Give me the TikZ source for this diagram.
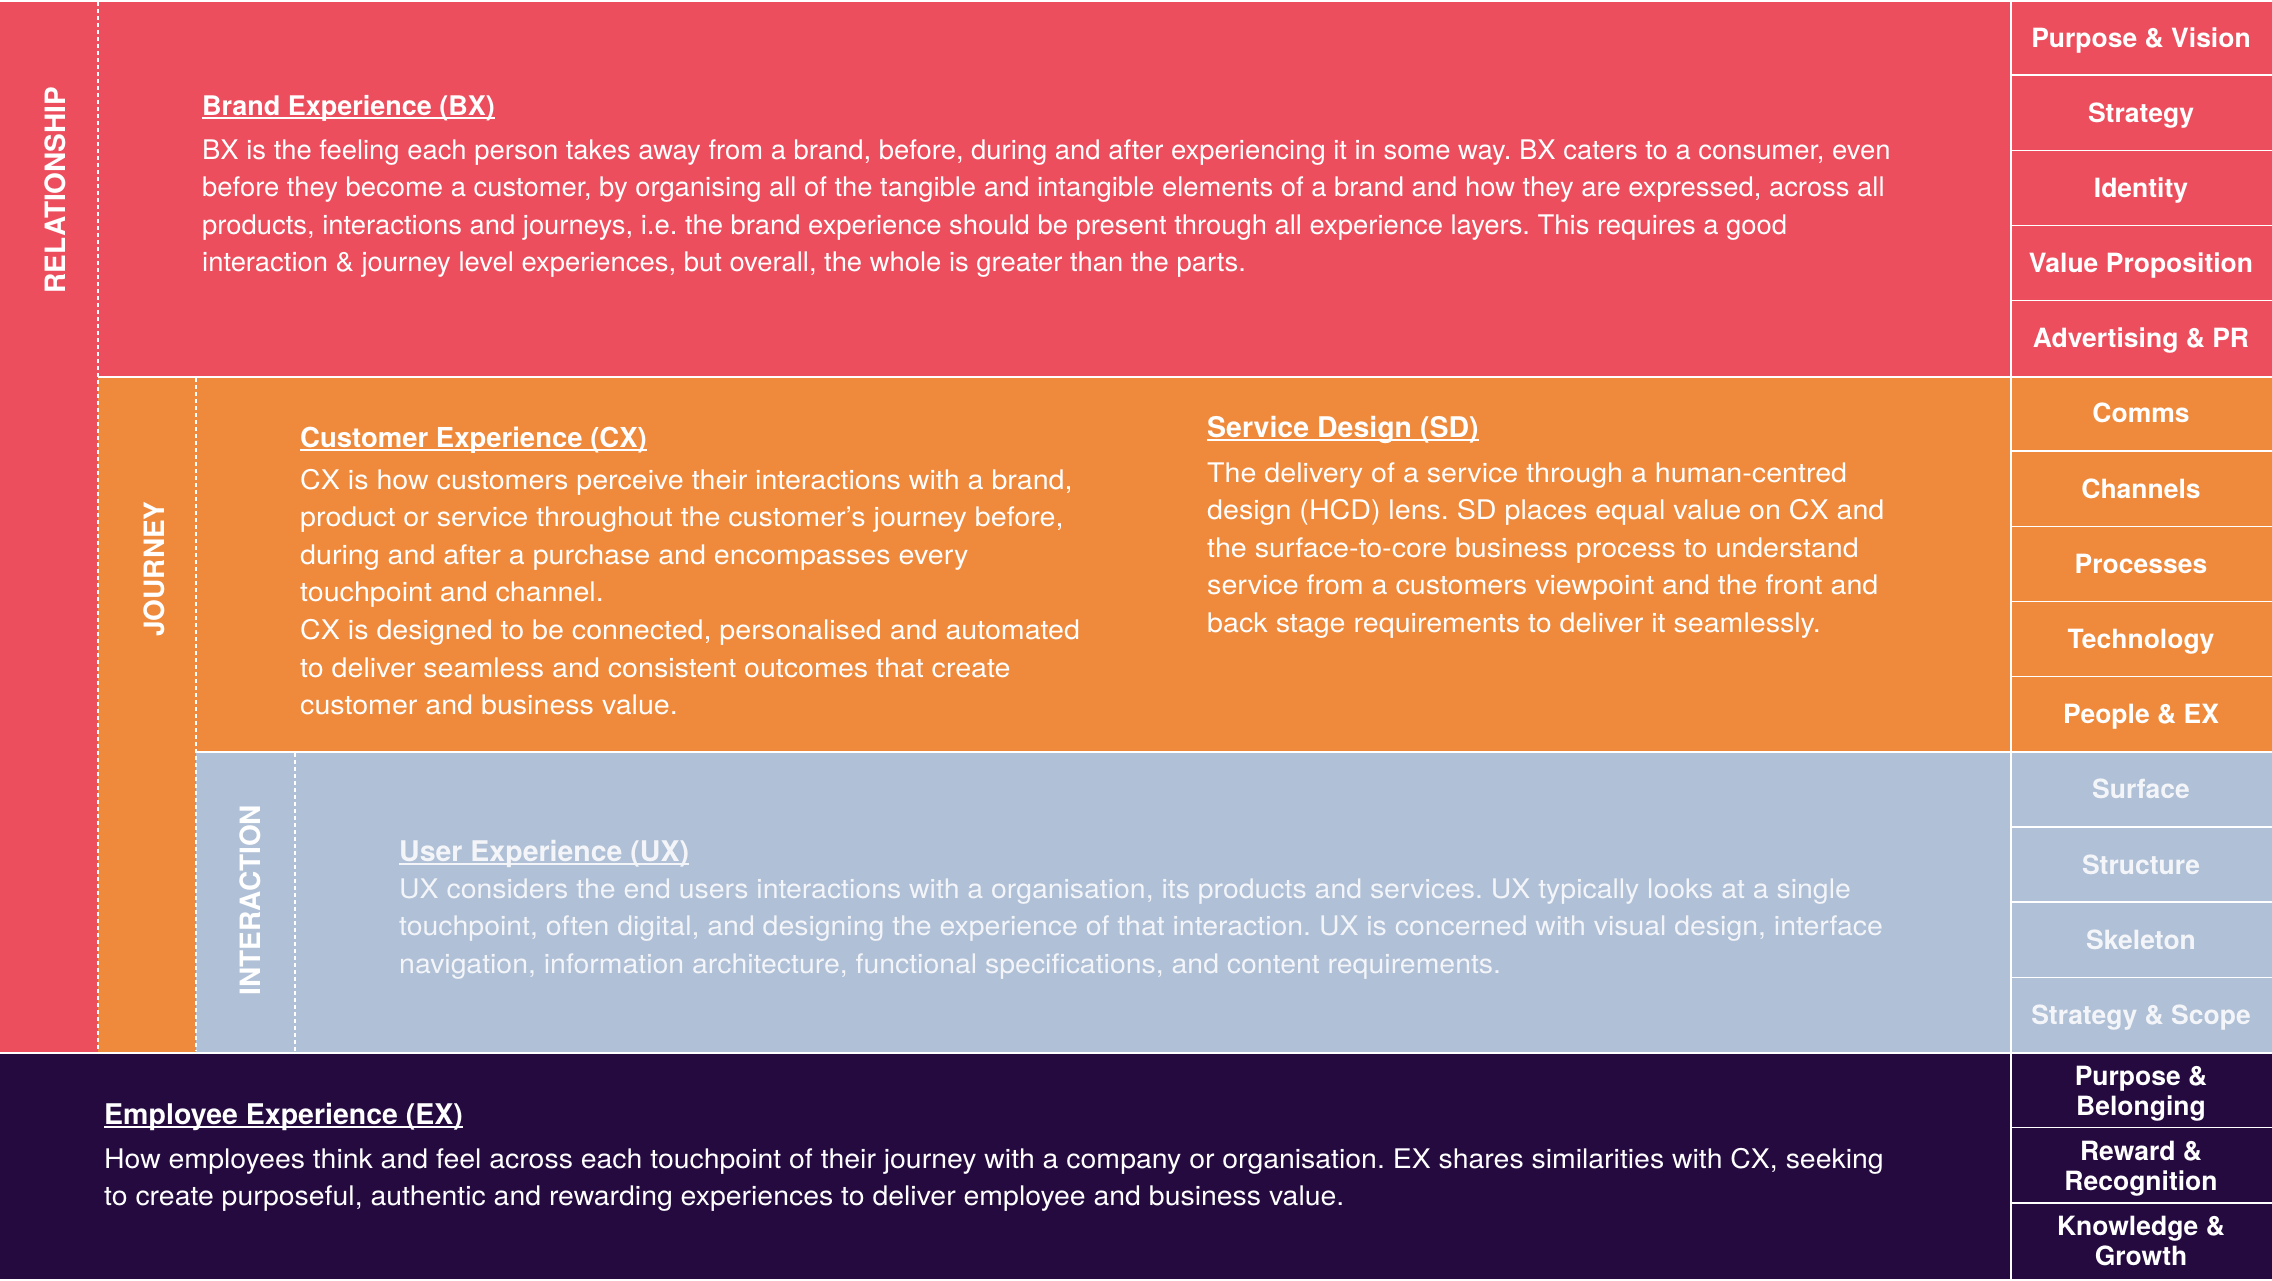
\documentclass[tikz,border=0pt]{standalone}
\usepackage{fontspec}
\setmainfont{TeX Gyre Heros}
\newfontfamily\bodyA{TeX Gyre Heros}[FakeStretch=1.015]
\newfontfamily\bodyB{TeX Gyre Heros}[FakeStretch=1.06]
\newfontfamily\bodyC{TeX Gyre Heros}[FakeStretch=1.053]
\frenchspacing
\definecolor{bxred}{HTML}{EC4E5E}
\definecolor{cxorange}{HTML}{EF893B}
\definecolor{uxblue}{HTML}{B0C0D6}
\definecolor{expurple}{HTML}{250A40}
\definecolor{softwhite}{HTML}{F3F5F9}
\newcommand\myul[1]{\setbox0=\hbox{#1}\rlap{\rule[-4pt]{\wd0}{1.6pt}}\box0}
\begin{document}
\begin{tikzpicture}[x=1pt,y=-1pt,
  titletext/.style={anchor=base west, inner sep=0, text=white, font=\fontsize{28.5}{30}\selectfont\bfseries},
  bodytext/.style={anchor=base west, inner sep=0, text=white, font=\bodyB\fontsize{27}{37.6}\selectfont},
  layerlabel/.style={inner sep=0, text=white, rotate=90, font=\fontsize{28}{30}\selectfont\bfseries},
  celltext/.style={anchor=base, inner sep=0, text=white, font=\fontsize{26.5}{30}\selectfont\bfseries},
  sepline/.style={white, line width=2pt},
  cellsep/.style={white, line width=1.5pt},
  dashsep/.style={white, line width=1.5pt, dash pattern=on 4pt off 3pt},
]
\useasboundingbox (0,0) rectangle (2272,1280);
\fill[white] (0,0) rectangle (2272,1280);
% bands
\fill[bxred] (0,1.5) rectangle (2010,1052);
\fill[cxorange] (98,376) rectangle (2010,1052);
\fill[uxblue] (196,751) rectangle (2010,1052);
\fill[expurple] (0,1052) rectangle (2272,1278.5);
% right column cells
\fill[bxred] (2010,1.5) rectangle (2272,{5*75.18});
\fill[cxorange] (2010,{5*75.18}) rectangle (2272,{10*75.18});
\fill[uxblue] (2010,{10*75.18}) rectangle (2272,{14*75.18});
\fill[expurple] (2010,{14*75.18}) rectangle (2272,1278.5);
% separators
\draw[sepline] (98,376.5) -- (2272,376.5);
\draw[sepline] (196,751.5) -- (2272,751.5);
\draw[sepline] (0,1052.5) -- (2272,1052.5);
\draw[sepline] (2010.5,0) -- (2010.5,1280);
\foreach \i in {1,2,3,4,6,7,8,9,11,12,13,15,16}
  \draw[cellsep] (2011,{\i*75.18}) -- (2272,{\i*75.18});
% dashed layer dividers
\draw[dashsep] (98,2) -- (98,1051);
\draw[dashsep] (196,378) -- (196,1051);
\draw[dashsep] (295,753) -- (295,1051);
% layer labels
\node[layerlabel] (relationship) at (55,190) {RELATIONSHIP};
\node[layerlabel] (journey) at (154,569) {JOURNEY};
\node[layerlabel] (interaction) at (250,900) {INTERACTION};
% Brand experience
\node[titletext, font=\fontsize{27}{30}\selectfont\bfseries] (bxtitle) at (202,115) {\myul{Brand Experience (BX)}};
\node[bodytext, font=\bodyA\fontsize{27}{37.6}\selectfont] (bxbody) at (202,159) {\parbox[t]{1900pt}{\raggedright
BX is the feeling each person takes away from a brand, before, during and after experiencing it in some way. BX caters to a consumer, even\\
before they become a customer, by organising all of the tangible and intangible elements of a brand and how they are expressed, across all\\
products, interactions and journeys, i.e. the brand experience should be present through all experience layers. This requires a good\\
interaction \& journey level experiences, but overall, the whole is greater than the parts.}};
% Customer experience
\node[titletext, font=\fontsize{27.5}{30}\selectfont\bfseries] (cxtitle) at (300,447) {\myul{Customer Experience (CX)}};
\node[bodytext] (cxbody) at (300,489) {\parbox[t]{900pt}{\raggedright
CX is how customers perceive their interactions with a brand,\\
product or service throughout the customer’s journey before,\\
during and after a purchase and encompasses every\\
touchpoint and channel.\\
CX is designed to be connected, personalised and automated\\
to deliver seamless and consistent outcomes that create\\
customer and business value.}};
% Service design
\node[titletext] (sdtitle) at (1207,437) {\myul{Service Design (SD)}};
\node[bodytext] (sdbody) at (1207,482) {\parbox[t]{750pt}{\raggedright
The delivery of a service through a human-centred\\
design (HCD) lens. SD places equal value on CX and\\
the surface-to-core business process to understand\\
service from a customers viewpoint and the front and\\
back stage requirements to deliver it seamlessly.}};
% User experience
\node[titletext, text=softwhite] (uxtitle) at (399,861) {\myul{User Experience (UX)}};
\node[bodytext, text=softwhite, font=\bodyC\fontsize{27}{37.6}\selectfont] (uxbody) at (399,898) {\parbox[t]{1650pt}{\raggedright
UX considers the end users interactions with a organisation, its products and services. UX typically looks at a single\\
touchpoint, often digital, and designing the experience of that interaction. UX is concerned with visual design, interface\\
navigation, information architecture, functional specifications, and content requirements.}};
% Employee experience
\node[titletext] (extitle) at (104,1124) {\myul{Employee Experience (EX)}};
\node[bodytext, font=\bodyC\fontsize{27}{37.6}\selectfont] (exbody) at (104,1168) {\parbox[t]{2000pt}{\raggedright
How employees think and feel across each touchpoint of their journey with a company or organisation. EX shares similarities with CX, seeking\\
to create purposeful, authentic and rewarding experiences to deliver employee and business value.}};
% right column labels
\foreach \i/\t in {0/Purpose \& Vision, 1/Strategy, 2/Identity, 3/Value Proposition, 4/Advertising \& PR,
                   5/Comms, 6/Channels, 7/Processes, 8/Technology, 9/People \& EX}
  \node[celltext] (cell\i) at (2141,{(\i+0.5)*75.18+9.5}) {\t};
\foreach \i/\t in {10/Surface, 11/Structure, 12/Skeleton, 13/Strategy \& Scope}
  \node[celltext, text=softwhite] (cell\i) at (2141,{(\i+0.5)*75.18+9.5}) {\t};
\node[celltext] (cell14) at (2141,{14.5*75.18-5}) {\parbox[t]{250pt}{\centering Purpose \&\\Belonging}};
\node[celltext] (cell15) at (2141,{15.5*75.18-5}) {\parbox[t]{250pt}{\centering Reward \&\\Recognition}};
\node[celltext] (cell16) at (2141,{16.5*75.18-5}) {\parbox[t]{250pt}{\centering Knowledge \&\\Growth}};
\end{tikzpicture}
\end{document}
